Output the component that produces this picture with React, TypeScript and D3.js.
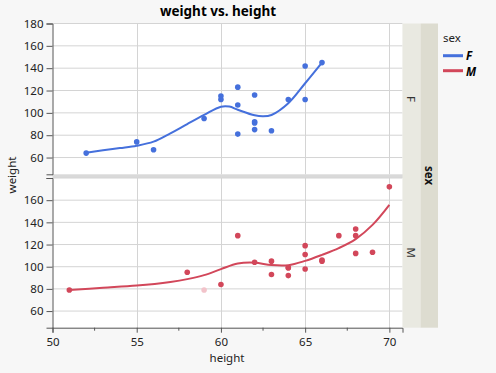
import * as d3 from "d3";
import { useRef, useEffect } from "react";

const W = 496;
const H = 373;

// Big Class: height / weight by sex
const femaleHeight = [52, 55, 56, 59, 60, 60, 61, 61, 61, 62, 62, 62, 62, 63, 64, 65, 65, 66];
const femaleWeight = [64, 74, 67, 95, 112, 115, 123, 107, 81, 91, 85, 92, 116, 84, 112, 142, 112, 145];
const maleHeight = [51, 58, 60, 61, 62, 63, 63, 64, 64, 64, 65, 65, 65, 66, 66, 67, 68, 68, 68, 69, 70];
const maleWeight = [79, 95, 84, 128, 104, 105, 93, 99, 92, 99, 119, 111, 98, 105, 106, 128, 134, 128, 112, 113, 172];
// excluded row (drawn faded)
const excludedHeight = [59];
const excludedWeight = [79];

// smoother
const femaleFitX = [52, 53, 54, 55, 56, 57, 58, 59, 60, 60.5, 61, 62, 62.5, 63, 64, 65, 66];
const femaleFitY = [64.3, 66.5, 68.5, 70.6, 74.2, 81.7, 90, 98.1, 105.5, 105.6, 102.8, 97.8, 96.9, 98.1, 108.6, 126.5, 145];
const maleFitX = [51, 53, 55, 57, 58, 59, 60, 61, 62, 63, 64, 65, 66, 67, 68, 69, 70];
const maleFitY = [79, 81, 83, 86.3, 88.8, 92.4, 97.8, 102.8, 103.6, 101.5, 101.4, 105.3, 110.7, 116.8, 124.9, 137.7, 155.8];

const xTicks = [50, 55, 60, 65, 70];
const xMinor = [52.5, 57.5, 62.5, 67.5];
const yTicks = [60, 80, 100, 120, 140, 160, 180];

const BLUE = "#4570dc";
const RED = "#d2475a";
const FONT = "'Noto Sans', sans-serif";

const PLOT = { left: 52.5, right: 402.5 };
const panels = [
  { key: "F", top: 23.5, bottom: 174.3, color: BLUE, hx: femaleHeight, wy: femaleWeight, fx: femaleFitX, fy: femaleFitY, topLabel: true },
  { key: "M", top: 178, bottom: 327.7, color: RED, hx: maleHeight, wy: maleWeight, fx: maleFitX, fy: maleFitY, topLabel: false },
];

export default function App() {
  const svgRef = useRef(null);

  useEffect(() => {
    const svg = d3.select(svgRef.current);
    svg.selectAll("*").remove();

    svg.append("rect").attr("width", W).attr("height", H).attr("fill", "#f7f7f7");

    const x = d3.scaleLinear().domain([50, 70.78]).range([PLOT.left, PLOT.right]);

    // plot background + separator
    svg.append("rect")
      .attr("x", PLOT.left).attr("y", 23.5)
      .attr("width", PLOT.right - PLOT.left).attr("height", 327.7 - 23.5)
      .attr("fill", "#fff");
    svg.append("rect")
      .attr("x", PLOT.left).attr("y", 174.3)
      .attr("width", 420 - PLOT.left).attr("height", 3.7)
      .attr("fill", "#d9d9d9");

    panels.forEach((p) => {
      const y = d3.scaleLinear().domain([45, 180]).range([p.bottom, p.top]);
      const g = svg.append("g");

      // grid
      g.selectAll(".hg").data(yTicks).enter().append("line")
        .attr("x1", PLOT.left).attr("x2", PLOT.right)
        .attr("y1", (d) => y(d)).attr("y2", (d) => y(d))
        .attr("stroke", "#d4d4d4").attr("stroke-width", 1);
      g.selectAll(".vg").data(xTicks.slice(1)).enter().append("line")
        .attr("x1", (d) => Math.round(x(d)) + 0.5).attr("x2", (d) => Math.round(x(d)) + 0.5)
        .attr("y1", p.top).attr("y2", p.bottom)
        .attr("stroke", "#d4d4d4").attr("stroke-width", 1);

      // y axis
      const ax = g.append("g").attr("transform", `translate(${PLOT.left},0)`)
        .call(d3.axisLeft(y).tickValues(yTicks).tickSize(6).tickPadding(3)
          .tickFormat((d) => (!p.topLabel && d === 180 ? "" : String(d))));
      ax.select(".domain").attr("stroke", "#555");
      ax.selectAll(".tick line").attr("stroke", "#555");
      ax.selectAll("text").attr("font-family", FONT).attr("font-size", 11.5).attr("fill", "#222");

      // smoother
      const line = d3.line<number>()
        .x((d, i) => x(p.fx[i]))
        .y((d, i) => y(p.fy[i]))
        .curve(d3.curveCatmullRom.alpha(0.5));
      g.append("path").datum(p.fy).attr("d", line)
        .attr("fill", "none").attr("stroke", p.color).attr("stroke-width", 2);

      // points
      if (p.key === "M") {
        g.selectAll(".ex").data(excludedHeight).enter().append("circle")
          .attr("cx", (d) => x(d)).attr("cy", (d, i) => y(excludedWeight[i]))
          .attr("r", 2.8).attr("fill", "#f2c3ca");
      }
      g.selectAll(".pt").data(p.hx).enter().append("circle")
        .attr("cx", (d) => x(d)).attr("cy", (d, i) => y(p.wy[i]))
        .attr("r", 2.8).attr("fill", p.color);
    });

    // x axis
    const xa = svg.append("g").attr("transform", `translate(0,327.7)`)
      .call(d3.axisBottom(x).tickValues(xTicks).tickSize(5).tickPadding(5));
    xa.select(".domain").attr("stroke", "#555");
    xa.selectAll(".tick line").attr("stroke", "#555");
    xa.selectAll("text").attr("font-family", FONT).attr("font-size", 11.5).attr("fill", "#222");
    svg.append("g").selectAll("line").data(xMinor).enter().append("line")
      .attr("x1", (d) => x(d)).attr("x2", (d) => x(d))
      .attr("y1", 327.7).attr("y2", 330.7).attr("stroke", "#555");

    // strips
    svg.append("rect").attr("x", 402.5).attr("y", 23.5).attr("width", 18).attr("height", 304.2).attr("fill", "#e9e9e1");
    svg.append("rect").attr("x", 420.5).attr("y", 23.5).attr("width", 17.5).attr("height", 304.2).attr("fill", "#dddcd0");
    [["F", 98.9], ["M", 252.8]].forEach(([t, cy]) => {
      svg.append("text")
        .attr("transform", `translate(407,${cy}) rotate(90)`)
        .attr("text-anchor", "middle")
        .attr("font-family", FONT).attr("font-size", 11.5).attr("fill", "#333")
        .text(t as string);
    });
    svg.append("text")
      .attr("transform", `translate(425,175.5) rotate(90)`)
      .attr("text-anchor", "middle")
      .attr("font-family", FONT).attr("font-size", 11.5).attr("font-weight", "bold").attr("fill", "#111")
      .text("sex");

    // titles
    svg.append("text").attr("x", 218).attr("y", 15.5).attr("text-anchor", "middle")
      .attr("font-family", FONT).attr("font-size", 13.5).attr("font-weight", "bold").attr("fill", "#000")
      .text("weight vs. height");
    svg.append("text").attr("x", 227).attr("y", 362).attr("text-anchor", "middle")
      .attr("font-family", FONT).attr("font-size", 11.5).attr("fill", "#222")
      .text("height");
    svg.append("text").attr("transform", "translate(16,175) rotate(-90)").attr("text-anchor", "middle")
      .attr("font-family", FONT).attr("font-size", 11.5).attr("fill", "#222")
      .text("weight");

    // legend
    svg.append("text").attr("x", 443).attr("y", 42)
      .attr("font-family", FONT).attr("font-size", 11.5).attr("fill", "#222").text("sex");
    [["F", BLUE, 55.7, 59.6], ["M", RED, 70.7, 75.6]].forEach(([t, c, ly, ty]) => {
      svg.append("line").attr("x1", 443).attr("x2", 463).attr("y1", ly).attr("y2", ly)
        .attr("stroke", c as string).attr("stroke-width", 3);
      svg.append("text").attr("x", 466).attr("y", ty)
        .attr("font-family", FONT).attr("font-size", 11.5).attr("font-weight", "bold")
        .attr("font-style", "italic").attr("fill", "#000").text(t as string);
    });
  }, []);

  return <svg ref={svgRef} width={W} height={H} style={{ position: "absolute", left: 0, top: 0 }} />;
}
